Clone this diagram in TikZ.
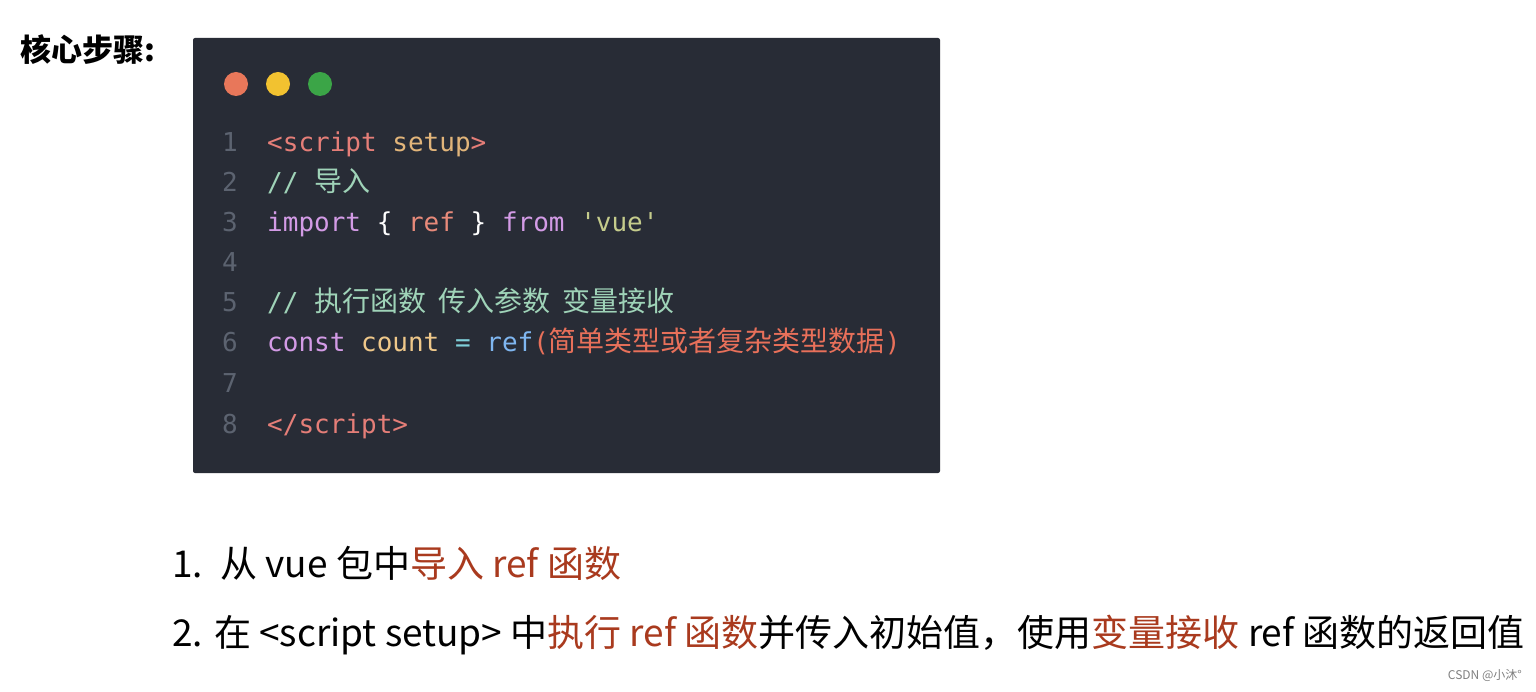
\documentclass[tikz,border=0pt]{standalone}
\usepackage{fontspec}
\setmainfont{Noto Sans CJK SC}
\newfontfamily\cjk{Noto Sans CJK SC}
\newfontfamily\monof{DejaVu Sans Mono}
\definecolor{bg}{HTML}{282C36}
\definecolor{lnum}{HTML}{5C6370}
\definecolor{tagc}{HTML}{E57E78}
\definecolor{attc}{HTML}{E2B57A}
\definecolor{comc}{HTML}{9FD3B8}
\definecolor{kwc}{HTML}{D39BE6}
\definecolor{refc}{HTML}{E88A7A}
\definecolor{strc}{HTML}{C5CC8C}
\definecolor{varc}{HTML}{EFC88A}
\definecolor{opc}{HTML}{7FD0DA}
\definecolor{fnc}{HTML}{7FB6F0}
\definecolor{cjkc}{HTML}{E8705A}
\definecolor{hl}{HTML}{A93A1E}
\definecolor{dred}{HTML}{E8775A}
\definecolor{dyel}{HTML}{F2C230}
\definecolor{dgrn}{HTML}{3BA547}
\tikzset{
 code/.style={anchor=base west,inner sep=0,text=white,font=\fontsize{26}{26}\monof},
 lnum/.style={anchor=base west,inner sep=0,text=lnum,font=\fontsize{26}{26}\monof},
 item/.style={anchor=west,inner sep=0,font=\fontsize{37}{37}\cjk},
}
\newcommand{\zh}[1]{{\fontsize{28}{28}\cjk #1}}
\begin{document}
\begin{tikzpicture}[x=1pt,y=-1pt]
\useasboundingbox[fill=white] (0,0) rectangle (1536,692);
\node[anchor=west,inner sep=0,font=\fontsize{31}{31}\cjk\bfseries] (title) at (20,50) {核心步骤:};
\fill[bg,rounded corners=2pt] (193,38) rectangle (940,473);
\fill[dred] (236,84) circle (12);
\fill[dyel] (278,84) circle (12);
\fill[dgrn] (320,84) circle (12);
\foreach \i/\y in {1/152,2/192,3/232,4/272,5/312,6/352,7/392,8/433}{
  \node[lnum] (n\i) at (222,\y) {\i};
}
\node[code] (c1) at (267,152) {\textcolor{tagc}{<script} \textcolor{attc}{setup}\textcolor{tagc}{>}};
\node[code] (c2) at (267,192) {\textcolor{comc}{// \zh{导入}}};
\node[code] (c3) at (267,232) {\textcolor{kwc}{import} \textcolor{white}{\{} \textcolor{refc}{ref} \textcolor{white}{\}} \textcolor{kwc}{from} \textcolor{strc}{'vue'}};
\node[code] (c5) at (267,312) {\textcolor{comc}{// \zh{执行函数\hspace{12pt}传入参数\hspace{12pt}变量接收}}};
\node[code] (c6) at (267,352) {\textcolor{kwc}{const} \textcolor{varc}{count} \textcolor{opc}{=} \textcolor{fnc}{ref}\textcolor{cjkc}{(\zh{简单类型或者复杂类型数据})}};
\node[code] (c8) at (267,433) {\textcolor{tagc}{</script>}};
\node[item] (i1) at (172,563) {1.\, 从 vue 包中\textcolor{hl}{导入 ref 函数}};
\node[item] (i2) at (172,635) {2. 在 <script setup> 中\textcolor{hl}{执行 ref 函数}并传入初始值，使用\textcolor{hl}{变量接收} ref 函数的返回值};
\node[anchor=east,inner sep=0,text=gray,font=\fontsize{12}{12}\cjk] (wm) at (1522,676) {CSDN @小沐°};
\end{tikzpicture}
\end{document}
